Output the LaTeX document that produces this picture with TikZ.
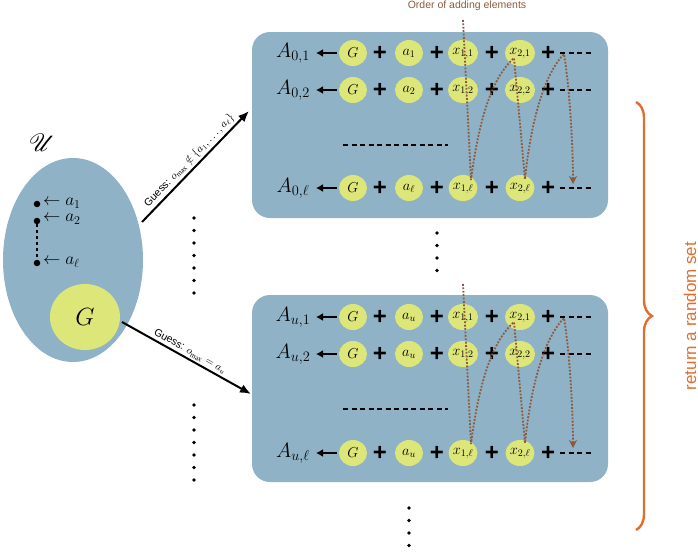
\documentclass[tikz,border=0pt]{standalone}
\usepackage{fontspec}
\setmainfont{Liberation Serif}
\setsansfont{Liberation Sans}
\usepackage{amssymb}
\usepackage{mathrsfs}
\usetikzlibrary{arrows.meta,decorations.pathreplacing,shapes.geometric}
\definecolor{boxblue}{RGB}{143,178,198}
\definecolor{elyellow}{RGB}{221,230,120}
\definecolor{brownd}{RGB}{140,90,60}
\definecolor{orng}{RGB}{225,110,45}
\tikzset{
  box/.style={fill=boxblue,rounded corners=18pt,draw=none},
  el/.style={ellipse,fill=elyellow,minimum width=28pt,minimum height=26pt,inner sep=0pt,font=\fontsize{14}{14}\selectfont},
  plus/.style={font=\fontsize{24}{24}\selectfont\sffamily\bfseries,inner sep=0pt},
  lbl/.style={font=\fontsize{20}{20}\selectfont,inner sep=0pt},
  bigarrow/.style={-{Latex[length=11pt,width=9pt]},line width=2pt},
  smallarrow/.style={-{Latex[length=7pt,width=8pt]},line width=2pt},
  order/.style={brownd,line width=1.8pt,dash pattern=on 1.8pt off 1.6pt},
  vdots/.style={fill=black,circle,inner sep=1.4pt},
  guess/.style={font=\fontsize{10.5}{11}\selectfont\sffamily,sloped,above,midway,inner sep=2pt}
}
\newcommand{\myrow}[6]{% name, y, A label, a label, x1, x2
  \node[lbl] (#1A) at (293,#2) {$#3$};
  \node[el] (#1G) at (353,#2) {$G$};
  \node[plus] (#1p1) at (380,#2) {+};
  \node[el] (#1a) at (409,#2) {$#4$};
  \node[plus] (#1p2) at (437,#2) {+};
  \node[el] (#1x) at (463,#2) {$#5$};
  \node[plus] (#1p3) at (492,#2) {+};
  \node[el] (#1y) at (520,#2) {$#6$};
  \node[plus] (#1p4) at (548,#2) {+};
  \coordinate (#1d1) at (560,#2);
  \coordinate (#1d2) at (592,#2);
  \draw[line width=2pt,dash pattern=on 5pt off 3.5pt] (#1d1) -- (#1d2);
  \coordinate (#1s) at (337,#2);
  \coordinate (#1t) at (316,#2);
  \draw[smallarrow] (#1s) -- (#1t);
}
\begin{document}
\begin{tikzpicture}[x=1pt,y=-1pt]
\useasboundingbox (0,0) rectangle (698,552);
% U ellipse
\node[ellipse,fill=boxblue,minimum width=140pt,minimum height=204pt] (U) at (73,260) {};
\node[font=\fontsize{34}{34}\selectfont] (Ulbl) at (42,143) {$\mathscr{U}$};
\node[ellipse,fill=elyellow,minimum width=70pt,minimum height=66pt,font=\fontsize{34}{34}\selectfont] (G) at (85,317) {$G$};
\node[vdots,inner sep=2.3pt] (b1) at (37,204) {};
\node[vdots,inner sep=2.3pt] (b2) at (37,221) {};
\node[vdots,inner sep=2.3pt] (b3) at (37,263) {};
\draw[line width=2.4pt,dash pattern=on 3pt off 3pt] (b2) -- (b3);
\node[anchor=west,font=\fontsize{17}{17}\selectfont,inner sep=1pt] (l1) at (42,203) {$\leftarrow a_1$};
\node[anchor=west,font=\fontsize{17}{17}\selectfont,inner sep=1pt] (l2) at (42,219) {$\leftarrow a_2$};
\node[anchor=west,font=\fontsize{17}{17}\selectfont,inner sep=1pt] (l3) at (42,262) {$\leftarrow a_\ell$};
% boxes
\node[box,minimum width=356pt,minimum height=186pt] (B1) at (430,125) {};
\node[box,minimum width=356pt,minimum height=187pt] (B2) at (430,388.5) {};
% arrows
\coordinate (s1) at (142,222);
\coordinate (t1) at (249,111);
\draw[bigarrow] (s1) -- node[guess] {Guess: $o_{\max}\notin\{a_1,\ldots,a_\ell\}$} (t1);
\coordinate (s2) at (122,322);
\coordinate (t2) at (251,394);
\draw[bigarrow] (s2) -- node[guess] {Guess: $o_{\max}=a_u$} (t2);
% rows
\myrow{r1}{53}{A_{0,1}}{a_1}{x_{1,1}}{x_{2,1}}
\myrow{r2}{90}{A_{0,2}}{a_2}{x_{1,2}}{x_{2,2}}
\myrow{r3}{188}{A_{0,\ell}}{a_\ell}{x_{1,\ell}}{x_{2,\ell}}
\myrow{s1}{317}{A_{u,1}}{a_u}{x_{1,1}}{x_{2,1}}
\myrow{s2}{354}{A_{u,2}}{a_u}{x_{1,2}}{x_{2,2}}
\myrow{s3}{453}{A_{u,\ell}}{a_u}{x_{1,\ell}}{x_{2,\ell}}
\coordinate (m1a) at (343,145); \coordinate (m1b) at (448,145);
\draw[line width=2pt,dash pattern=on 5pt off 3.5pt] (m1a) -- (m1b);
\coordinate (m2a) at (343,409); \coordinate (m2b) at (448,409);
\draw[line width=2pt,dash pattern=on 5pt off 3.5pt] (m2a) -- (m2b);
% order paths
\node[brownd,font=\fontsize{10.5}{11}\selectfont\sffamily] (ord) at (467,6) {Order of adding elements};
\foreach \dy/\n in {0/p,264/q}{
  \coordinate (\n0) at (463,20+\dy);
  \coordinate (\n1) at (471,180+\dy);
  \coordinate (\n2) at (514,58+\dy);
  \coordinate (\n3) at (525,179+\dy);
  \coordinate (\n4) at (564,54+\dy);
  \coordinate (\n5) at (573,184+\dy);
  \draw[order,-{Stealth[length=8pt,width=8pt,brownd]}] (\n0) -- (\n1)
     .. controls (480,110+\dy) and (495,75+\dy) .. (\n2) -- (\n3)
     .. controls (532,110+\dy) and (548,70+\dy) .. (\n4)
     .. controls (570,90+\dy) and (573,150+\dy) .. (\n5);
}
% vertical dots
\foreach \yy [count=\i] in {218,230.5,243,255.5,268,280.5,293}{
  \node[vdots] (da\i) at (194,\yy) {};
}
\foreach \yy [count=\i] in {405,417.5,430,442.5,455,467.5,480}{
  \node[vdots] (db\i) at (194,\yy) {};
}
\foreach \yy [count=\i] in {233,245.5,258,270.5}{
  \node[vdots] (dc\i) at (437,\yy) {};
}
\foreach \yy [count=\i] in {508,520.5,533,545.5}{
  \node[vdots] (dd\i) at (409,\yy) {};
}
% brace
\coordinate (br1) at (636,102);
\coordinate (br2) at (636,530);
\draw[orng,line width=2.4pt,decorate,decoration={brace,amplitude=16pt,aspect=0.5}] (br1) -- (br2);
\node[orng,rotate=90,font=\fontsize{17}{17}\selectfont\sffamily] (ret) at (690,316) {return a random set};
\end{tikzpicture}
\end{document}
